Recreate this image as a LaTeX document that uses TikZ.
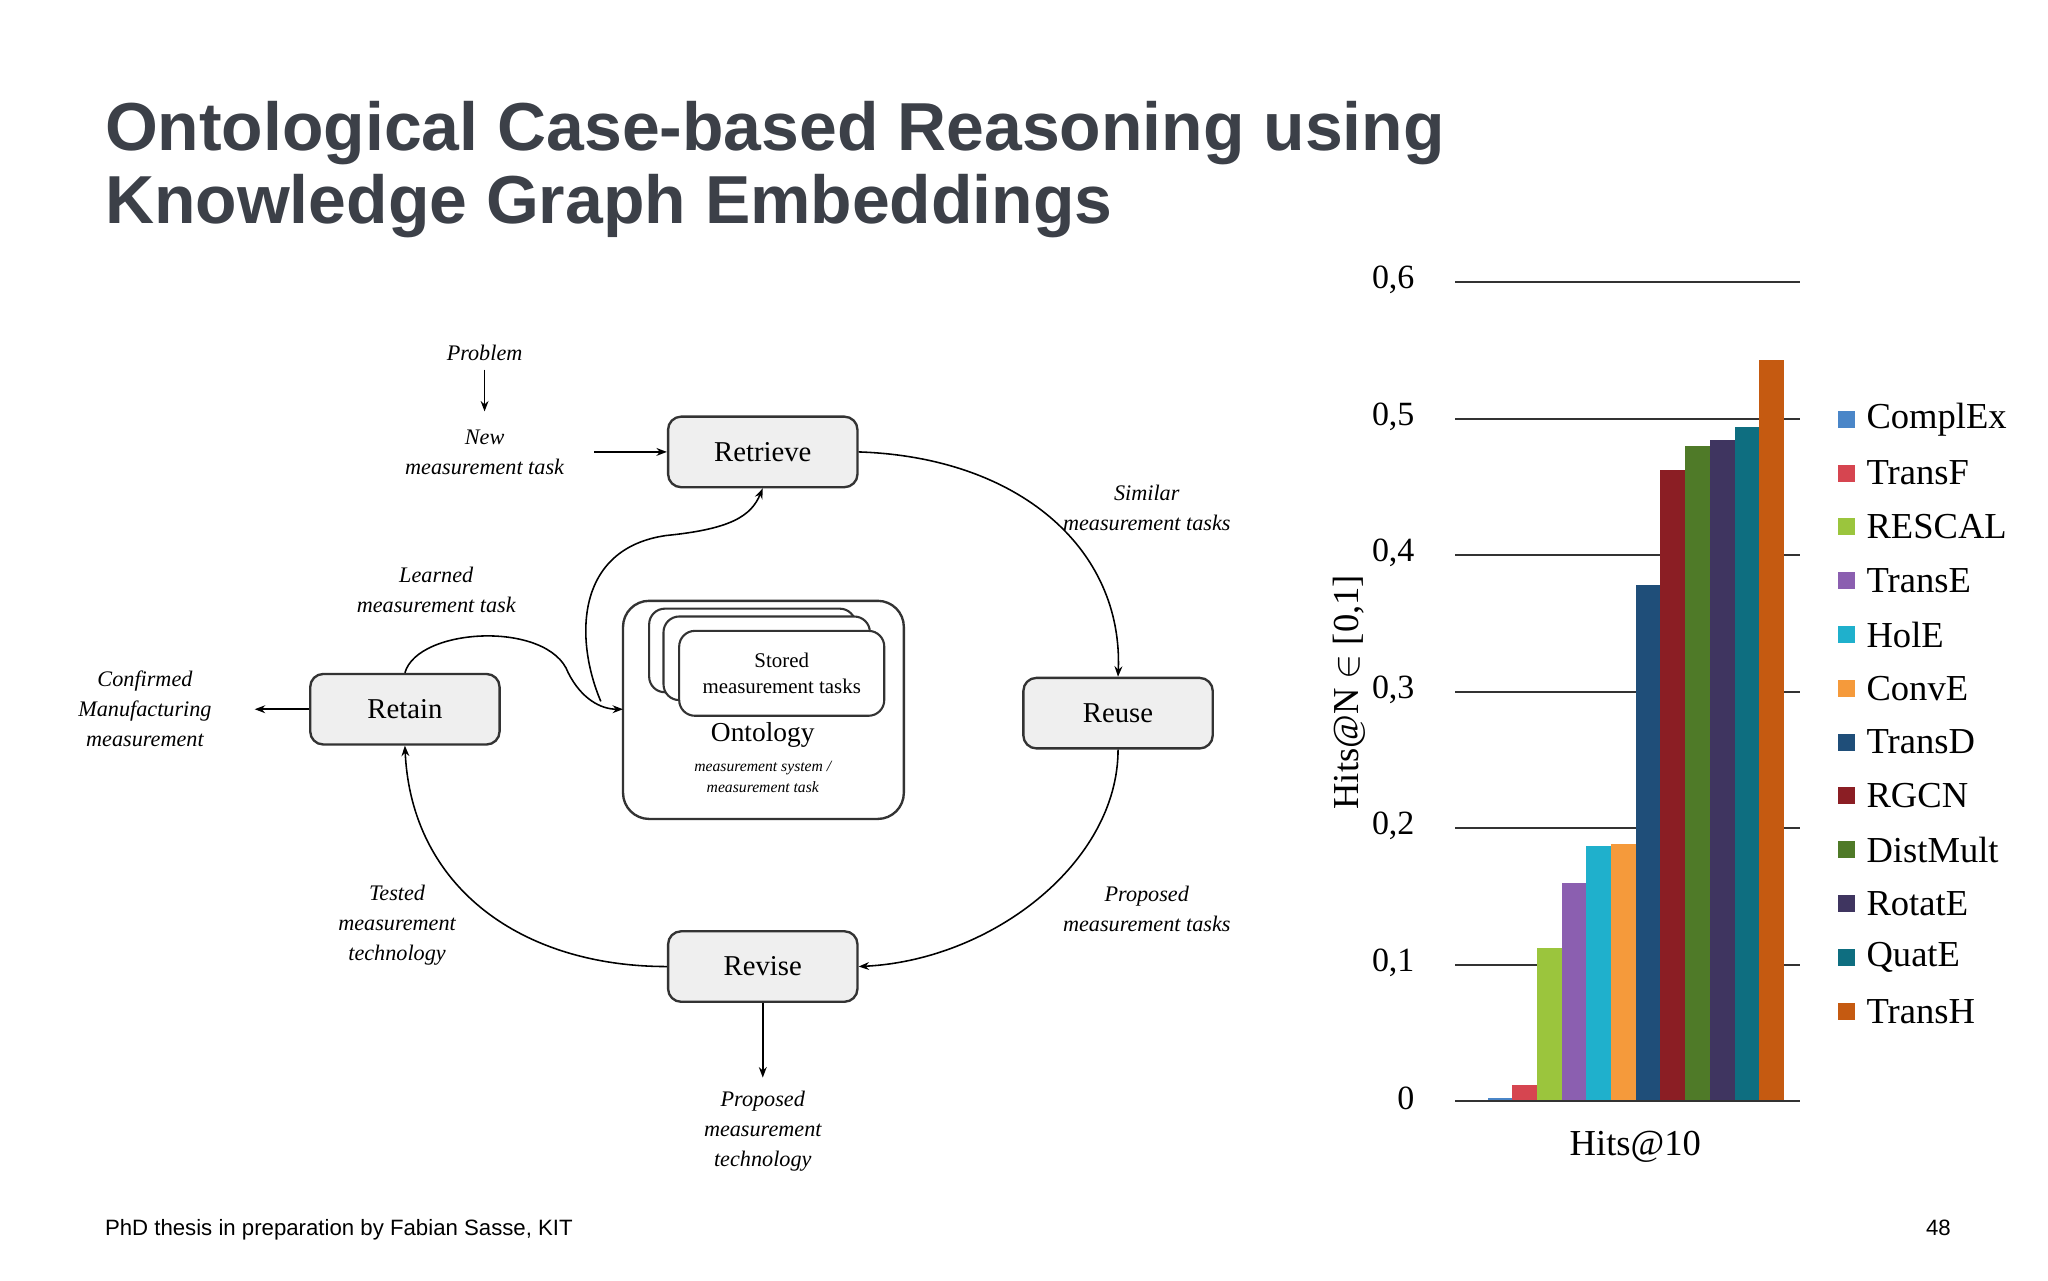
\documentclass[tikz,border=0pt]{standalone}
\usepackage{fontspec}
\setmainfont{Liberation Serif}
\newfontfamily\titlefont{Liberation Sans}
\usetikzlibrary{arrows.meta}
\definecolor{ttl}{HTML}{3C4048}
\definecolor{boxf}{HTML}{EFEFEF}
\definecolor{cA}{HTML}{4A86C8}\definecolor{cB}{HTML}{D64550}\definecolor{cC}{HTML}{9BC53D}
\definecolor{cD}{HTML}{8B5FB0}\definecolor{cE}{HTML}{1FB0CC}\definecolor{cF}{HTML}{F59A3B}
\definecolor{cG}{HTML}{1F4E79}\definecolor{cH}{HTML}{8B1E24}\definecolor{cI}{HTML}{4F7A28}
\definecolor{cJ}{HTML}{3F3560}\definecolor{cK}{HTML}{0E6E80}\definecolor{cL}{HTML}{C55A11}
\tikzset{
 phase/.style={draw=black!80,fill=boxf,rounded corners=5,line width=0.9pt,minimum width=72.5,minimum height=27,font=\fontsize{11}{13}\selectfont},
 lab/.style={align=center,font=\fontsize{8.5}{11.5}\selectfont\itshape},
 arr/.style={-{Stealth[length=4pt,width=3pt]},line width=0.6pt},
 num/.style={font=\fontsize{13}{15}\selectfont,anchor=east},
 leg/.style={font=\fontsize{14}{16}\selectfont,anchor=west},
 grid/.style={line width=0.6pt,black!80}
}
\begin{document}
\begin{tikzpicture}[x=0.5pt,y=-0.5pt]
\useasboundingbox (0,0) rectangle (1568,980);
% title
\node[anchor=base west,inner sep=0,text=ttl,font=\titlefont\bfseries\fontsize{26}{28}\selectfont] (t1) at (80,115) {Ontological Case-based Reasoning using};
\node[anchor=base west,inner sep=0,text=ttl,font=\titlefont\bfseries\fontsize{26}{28}\selectfont] (t2) at (80,171) {Knowledge Graph Embeddings};
\node[anchor=base west,inner sep=0,font=\titlefont\fontsize{8.5}{10}\selectfont] (f1) at (80,946) {PhD thesis in preparation by Fabian Sasse, KIT};
\node[anchor=base east,inner sep=0,font=\titlefont\fontsize{8.5}{10}\selectfont] (f2) at (1494,946) {48};
% phases
\node[phase] (ret) at (584,346) {Retrieve};
\node[phase] (rtn) at (310,543) {Retain};
\node[phase] (reu) at (856,546) {Reuse};
\node[phase] (rev) at (584,740) {Revise};
% ontology
\node[draw=black!80,rounded corners=10,line width=0.9pt,minimum width=107.5,minimum height=83.5] (ont) at (584.5,543.5) {};
\node[draw=black!80,fill=white,rounded corners=6,line width=0.8pt,minimum width=79,minimum height=32] (s1) at (576,498) {};
\node[draw=black!80,fill=white,rounded corners=6,line width=0.8pt,minimum width=79,minimum height=32] (s2) at (587,504) {};
\node[draw=black!80,fill=white,rounded corners=6,line width=0.8pt,minimum width=78.5,minimum height=32.5,align=center,font=\fontsize{8}{10}\selectfont] (s3) at (598.5,515.5) {Stored\\measurement tasks};
\node[font=\fontsize{10.5}{12}\selectfont] (ontl) at (584,563) {Ontology};
\node[lab,font=\fontsize{6}{8}\selectfont\itshape] (ontd) at (584,595) {measurement system /\\measurement task};
% labels
\node[lab] (prob) at (371,270) {Problem};
\node[lab] (new) at (371,346) {New\\measurement task};
\node[lab] (sim) at (878,389) {Similar\\measurement tasks};
\node[lab] (lrn) at (334,452) {Learned\\measurement task};
\node[lab] (conf) at (111,543) {Confirmed\\Manufacturing\\measurement};
\node[lab] (test) at (304,708) {Tested\\measurement\\technology};
\node[lab] (prop) at (878,696) {Proposed\\measurement tasks};
\node[lab] (ptech) at (584,866) {Proposed\\measurement\\technology};
\coordinate (cf) at (195,543);
\coordinate (pt) at (584,825);
\coordinate (ol) at (477,543);
\draw[arr] (prob) -- (371,315);
\draw[arr] (455,346) -- (ret.west);
\draw[arr] (rtn.west) -- (cf);
\draw[arr] (rev.south) -- (pt);
\draw[arr] (ret.east) .. controls (780,350) and (860,420) .. (reu.north);
\draw[arr] (reu.south) .. controls (856,660) and (760,735) .. (rev.east);
\draw[arr] (rev.west) .. controls (400,740) and (315,680) .. (rtn.south);
\draw[arr] (rtn.north) .. controls (320,480) and (420,475) .. (435,515) .. controls (445,535) and (460,543) .. (ol);
\draw[arr] (460,537) .. controls (440,490) and (440,420) .. (510,410) .. controls (560,405) and (575,395) .. (ret.south);
% chart
\foreach \v/\l/\y in {0.6/0{,}6/216,0.5/0{,}5/321,0.4/0{,}4/425,0.3/0{,}3/530,0.2/0{,}2/634,0.1/0{,}1/739,0/0/843}{
 \draw[grid] (1114,\y) -- (1378,\y);
 \node[num] at (1090,\y-2) {\l};
}
\foreach \i/\v/\c in {0/0.002/cA,1/0.012/cB,2/0.112/cC,3/0.160/cD,4/0.187/cE,5/0.188/cF,6/0.378/cG,7/0.462/cH,8/0.480/cI,9/0.484/cJ,10/0.494/cK,11/0.543/cL}{
 \fill[\c] (1139+\i*18.9,843) rectangle (1139+\i*18.9+18.9,843-\v*1045);
}
\draw[grid] (1114,843) -- (1378,843);
\foreach \i/\n/\c in {0/ComplEx/cA,1/TransF/cB,2/RESCAL/cC,3/TransE/cD,4/HolE/cE,5/ConvE/cF,6/TransD/cG,7/RGCN/cH,8/DistMult/cI,9/RotatE/cJ,10/QuatE/cK,11/TransH/cL}{
 \fill[\c] (1407,{321+\i*41.2-6.5}) rectangle (1420,{321+\i*41.2+6.5});
 \node[leg] at (1422,321+\i*41.2) {\n};
}
\node[font=\fontsize{14}{16}\selectfont,rotate=90] (yl) at (1033,530) {Hits@N $\in$ [0,1]};
\node[font=\fontsize{14}{16}\selectfont] (xl) at (1252,878) {Hits@10};
\end{tikzpicture}
\end{document}
